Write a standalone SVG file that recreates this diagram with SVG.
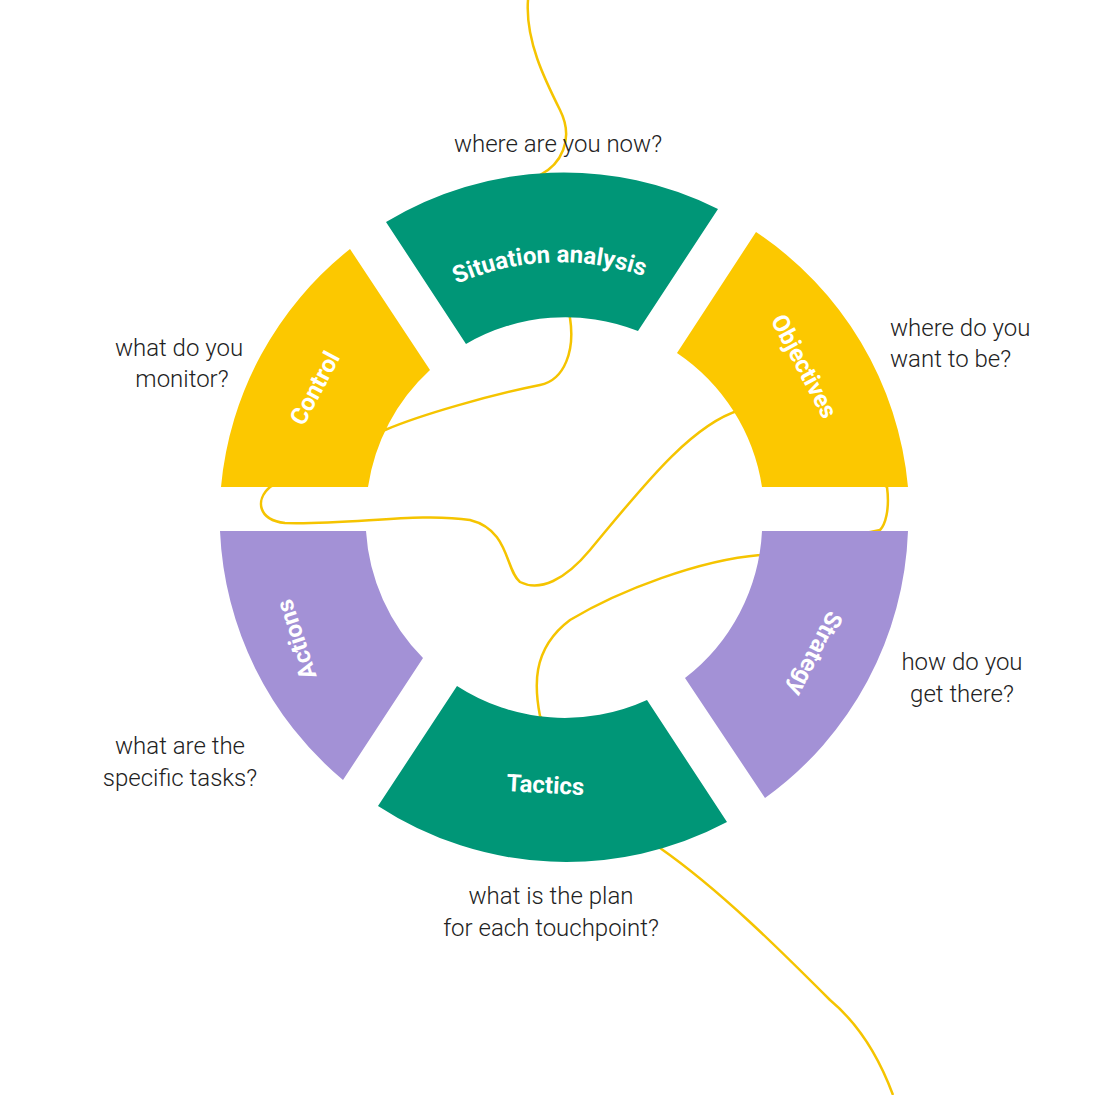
<svg xmlns="http://www.w3.org/2000/svg" width="1095" height="1095" viewBox="0 0 1095 1095">
<style>
.seg-g{fill:#009677}.seg-y{fill:#FCC800}.seg-p{fill:#A391D6}
.lbl{font-family:Roboto,"Liberation Sans",sans-serif;font-weight:700;font-size:24px;fill:#fff;text-anchor:middle}
.q{font-family:Roboto,"Liberation Sans",sans-serif;font-weight:300;font-size:24px;fill:#222}
</style>
<defs><path id="arcS" d="M396,322 A255 255 0 0 1 724,322"/></defs>
<rect width="1095" height="1095" fill="#fff"/>
<g id="connectors">
<path d="M528,0 C525,40 545,80 560,110 C575,140 560,165 540,175 L570,318 C575,350 565,380 540,385 C490,395 420,415 385,430 L270,487 C255,500 258,520 285,523 C350,525 420,512 470,520 C510,530 505,570 520,582 C540,592 565,580 590,550 C640,490 690,425 740,410 L887,487 C890,510 885,525 880,530 L760,555 C700,560 620,590 570,620 C530,650 535,690 540,716 L660,848 C720,890 780,950 830,1000 C860,1025 880,1060 893,1095" fill="none" stroke="#F5C400" stroke-width="2.5"/>
</g>
<g id="situation"><path class="seg-g" d="M386,222 A344 344 0 0 1 718,209 L638,331 A198 198 0 0 0 466,344 Z"/>
<text class="lbl"><textPath href="#arcS" startOffset="47%">Situation analysis</textPath></text></g>
<g id="objectives"><path class="seg-y" d="M756,232 A344 344 0 0 1 908,487 L762,487 A198 198 0 0 0 677,353 Z"/>
<text class="lbl" transform="translate(797,370) rotate(62)">Objectives</text></g>
<g id="strategy"><path class="seg-p" d="M908,531 A344 344 0 0 1 765,798 L685,678 A198 198 0 0 0 762,531 Z"/>
<text class="lbl" transform="translate(808,650) rotate(117)">Strategy</text></g>
<g id="tactics"><path class="seg-g" d="M727,822 A344 344 0 0 1 378,806 L457,686 A198 198 0 0 0 647,700 Z"/>
<text class="lbl" transform="translate(545,793) rotate(3)">Tactics</text></g>
<g id="actions"><path class="seg-p" d="M343,780 A344 344 0 0 1 220,531 L366,531 A198 198 0 0 0 423,658 Z"/>
<text class="lbl" transform="translate(304,637) rotate(-108)">Actions</text></g>
<g id="control"><path class="seg-y" d="M221,487 A344 344 0 0 1 350,249 L430,370 A198 198 0 0 0 368,487 Z"/>
<text class="lbl" transform="translate(322,392) rotate(-62)">Control</text></g>
<g id="questions">
<text class="q" x="558" y="152" text-anchor="middle">where are you now?</text>
<text class="q" x="890" y="336">where do you</text>
<text class="q" x="890" y="367">want to be?</text>
<text class="q" x="962" y="670" text-anchor="middle">how do you</text>
<text class="q" x="962" y="702" text-anchor="middle">get there?</text>
<text class="q" x="551" y="904" text-anchor="middle">what is the plan</text>
<text class="q" x="551" y="936" text-anchor="middle">for each touchpoint?</text>
<text class="q" x="180" y="754" text-anchor="middle">what are the</text>
<text class="q" x="180" y="786" text-anchor="middle">specific tasks?</text>
<text class="q" x="179" y="356" text-anchor="middle">what do you</text>
<text class="q" x="182" y="387" text-anchor="middle">monitor?</text>
</g>
</svg>
